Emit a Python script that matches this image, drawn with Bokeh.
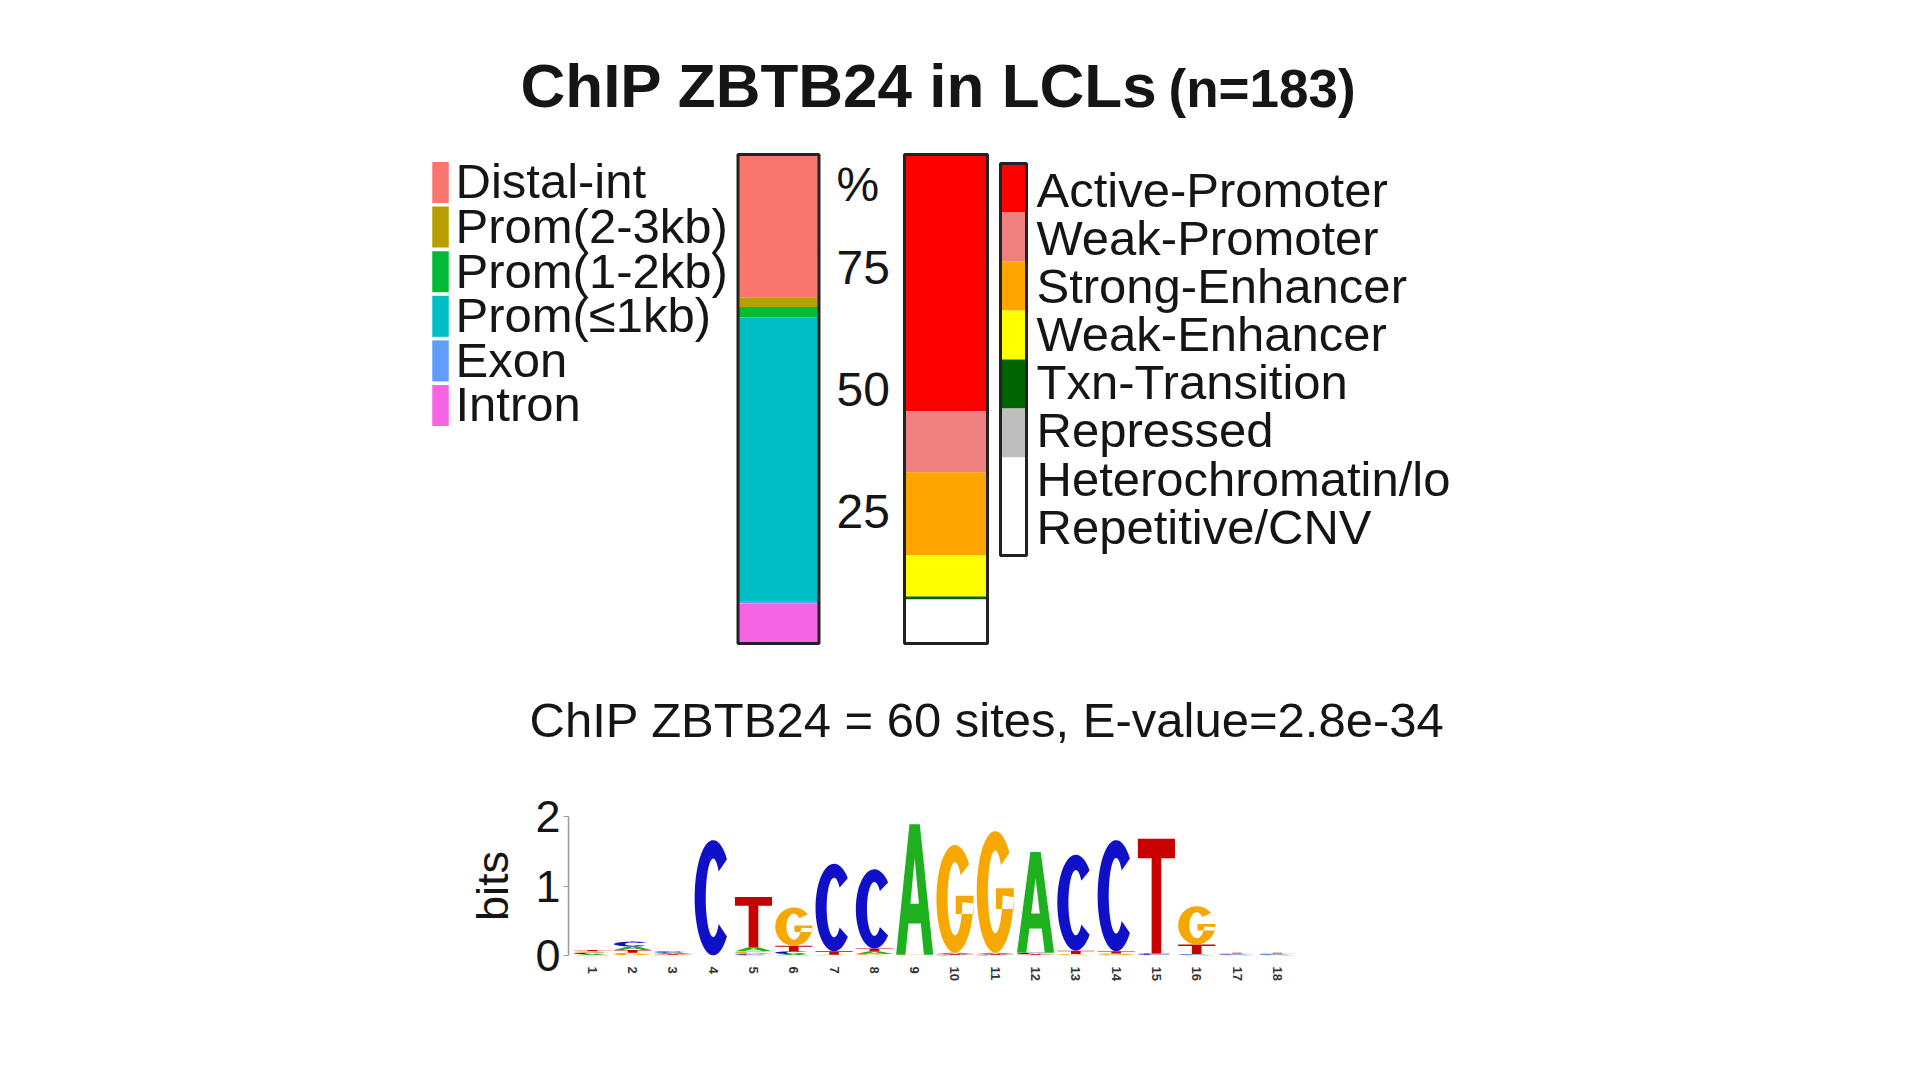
import numpy as np
from bokeh.plotting import figure
from bokeh.models import Range1d, FixedTicker
from bokeh.embed import file_html
from bokeh.resources import INLINE
from bokeh.core.properties import value

# ---------------- data ----------------
title_main = "ChIP ZBTB24 in LCLs"
title_n = "(n=183)"
motif_title = "ChIP ZBTB24 = 60 sites, E-value=2.8e-34"

region_labels = ["Distal-int", "Prom(2-3kb)", "Prom(1-2kb)", "Prom(\u22641kb)", "Exon", "Intron"]
region_pct = [29.2, 2.0, 2.1, 58.0, 0.5, 8.2]
region_colors = ["#F8766D", "#B79F00", "#00BA38", "#00BFC4", "#619CFF", "#F564E3"]

state_labels = ["Active-Promoter", "Weak-Promoter", "Strong-Enhancer", "Weak-Enhancer",
                "Txn-Transition", "Repressed", "Heterochromatin/lo", "Repetitive/CNV"]
state_pct = [52.5, 12.5, 17.0, 8.4, 0.6, 0.0, 9.0, 0.0]
state_colors = ["#FF0000", "#F08080", "#FFA500", "#FFFF00", "#006400", "#BEBEBE", "#FFFFFF", "#FFFFFF"]

pct_ticks = [25, 50, 75]
pct_unit = "%"

motif_pos = list(range(1, 19))
bits_A = [0.02, 0.05, 0.02, 0.00, 0.06, 0.02, 0.00, 0.04, 1.88, 0.02, 0.02, 1.45, 0.00, 0.01, 0.00, 0.01, 0.01, 0.01]
bits_C = [0.02, 0.07, 0.02, 1.66, 0.02, 0.04, 1.26, 1.14, 0.00, 0.01, 0.01, 0.02, 1.38, 1.60, 0.02, 0.01, 0.01, 0.01]
bits_G = [0.02, 0.04, 0.01, 0.00, 0.04, 0.55, 0.01, 0.02, 0.01, 1.55, 1.75, 0.01, 0.02, 0.02, 0.01, 0.55, 0.01, 0.01]
bits_T = [0.02, 0.04, 0.01, 0.00, 0.72, 0.08, 0.05, 0.04, 0.00, 0.01, 0.01, 0.01, 0.05, 0.03, 1.65, 0.14, 0.01, 0.01]
bits_ticks = [0, 1, 2]
letter_colors = {"A": "#1FB01F", "C": "#1010C8", "G": "#F7A800", "T": "#C80000"}

FONT = value("Liberation Sans")
TXT = "#151515"

# ---------------- layout helpers (pixel placement) ----------------
P1_W, P1_H = 1904, 780
PX_PER_PCT = 4.89
ZERO_IMG_Y = 643.0
BASE_FIX = 0.4  # baseline correction (fraction of font size)


def vy(img_y):
    return (ZERO_IMG_Y - img_y) / PX_PER_PCT


def vx(img_x):
    return float(img_x)


def tb(img_baseline, fs):
    return vy(img_baseline - BASE_FIX * fs)


y_top = vy(0.0)
y_bot = y_top - P1_H / PX_PER_PCT

p1 = figure(width=P1_W, height=P1_H, x_range=Range1d(0, P1_W), y_range=Range1d(y_bot, y_top),
            x_axis_type=None, y_axis_type=None, toolbar_location=None, output_backend="svg",
            min_border=0, title=None)
p1.outline_line_color = None
p1.grid.visible = False
p1.background_fill_color = "white"
p1.border_fill_color = "white"

# --- title ---
p1.text(x=[vx(520)], y=[tb(109.5, 62)], text=[title_main], text_font=FONT, text_font_size="62px",
        text_font_style="bold", text_baseline="alphabetic", text_align="left", text_color=TXT)
p1.text(x=[vx(1168)], y=[tb(109.5, 53)], text=[title_n], text_font=FONT, text_font_size="53px",
        text_font_style="bold", text_baseline="alphabetic", text_align="left", text_color=TXT)

# --- stacked bars ---
BAR_W = 81


def stacked(vals):
    tops, bots = [], []
    cur = 100.0
    for v in vals:
        tops.append(cur)
        bots.append(cur - v)
        cur -= v
    return tops, bots


left_x = vx(778)
right_x = vx(945.5)

t, b = stacked(region_pct)
p1.vbar(x=[left_x] * len(region_pct), width=BAR_W, top=t, bottom=b,
        fill_color=region_colors, line_color=None)
p1.vbar(x=[left_x], width=BAR_W, top=[100], bottom=[0], fill_color=None,
        line_color="#222222", line_width=3)

t, b = stacked(state_pct)
p1.vbar(x=[right_x] * len(state_pct), width=BAR_W + 2, top=t, bottom=b,
        fill_color=state_colors, line_color=None)
p1.vbar(x=[right_x], width=BAR_W + 2, top=[100], bottom=[0], fill_color=None,
        line_color="#222222", line_width=3)

# --- percentage labels between bars ---
p1.text(x=[vx(836)] * len(pct_ticks), y=pct_ticks, text=[str(v) for v in pct_ticks],
        text_font=FONT, text_font_size="48px", text_baseline="alphabetic", text_align="left",
        text_color=TXT, y_offset=9.5 - BASE_FIX * 48)
p1.text(x=[vx(836)], y=[tb(203, 48)], text=[pct_unit], text_font=FONT, text_font_size="48px",
        text_baseline="alphabetic", text_align="left", text_color=TXT)

# --- left legend ---
L_STEP = 44.6
n_reg = len(region_labels)
p1.rect(x=[vx(440)] * n_reg, y=[vy(182 + L_STEP * i) for i in range(n_reg)],
        width=16.5, height=41 / PX_PER_PCT, fill_color=region_colors, line_color=None)
p1.text(x=[vx(455)] * n_reg, y=[tb(200.5 + L_STEP * i, 49) for i in range(n_reg)], text=region_labels,
        text_font=FONT, text_font_size="49px", text_baseline="alphabetic", text_align="left",
        text_color=TXT)

# --- right legend ---
n_st = len(state_labels)
BOX_TOP, BOX_BOT = 163.0, 555.0
slot = (BOX_BOT - BOX_TOP) / n_st
p1.rect(x=[vx(1013)] * n_st, y=[vy(BOX_TOP + slot * (i + 0.5)) for i in range(n_st)],
        width=25, height=slot / PX_PER_PCT, fill_color=state_colors, line_color=None)
p1.rect(x=[vx(1013)], y=[vy((BOX_TOP + BOX_BOT) / 2)], width=26,
        height=(BOX_BOT - BOX_TOP) / PX_PER_PCT, fill_color=None, line_color="#222222", line_width=3)
p1.text(x=[vx(1036)] * n_st, y=[tb(209 + 48.1 * i, 49) for i in range(n_st)], text=state_labels,
        text_font=FONT, text_font_size="49px", text_baseline="alphabetic", text_align="left",
        text_color=TXT)

# --- motif subtitle ---
p1.text(x=[vx(529)], y=[tb(739, 49)], text=[motif_title], text_font=FONT, text_font_size="49px",
        text_baseline="alphabetic", text_align="left", text_color=TXT)

# ---------------- sequence logo ----------------
p2 = figure(width=1321, height=268, x_range=Range1d(0.41, 18.6), y_range=Range1d(0, 2),
            toolbar_location=None, output_backend="svg", title=None,
            min_border_left=568, min_border_right=20, min_border_top=36, min_border_bottom=93)
p2.outline_line_color = None
p2.grid.visible = False


def arc_ring(a0, a1, rxo, ryo, rxi, ryi, n=48):
    th = np.radians(np.linspace(a0, a1, n))
    ox = 0.5 + rxo * np.cos(th)
    oy = 0.5 + ryo * np.sin(th)
    ix = 0.5 + rxi * np.cos(th[::-1])
    iy = 0.5 + ryi * np.sin(th[::-1])
    return list(np.concatenate([ox, ix])), list(np.concatenate([oy, iy]))


# unit glyph outlines: list of polygons, each polygon = list of rings (outer, holes...)
SHAPES = {
    "A": [[([0.0, 0.36, 0.64, 1.0, 0.75, 0.665, 0.335, 0.25], [0, 1, 1, 0, 0, 0.24, 0.24, 0]),
           ([0.385, 0.615, 0.5], [0.39, 0.39, 0.74])]],
    "T": [[([0.0, 1.0, 1.0, 0.63, 0.63, 0.37, 0.37, 0.0], [1, 1, 0.83, 0.83, 0, 0, 0.83, 0.83])]],
    "C": [[arc_ring(42, 318, 0.5, 0.5, 0.2, 0.34)]],
    "G": [[arc_ring(40, 355, 0.5, 0.5, 0.2, 0.34)],
          [([0.52, 1.0, 1.0, 0.52], [0.36, 0.36, 0.53, 0.53])]],
}

bits = {"A": bits_A, "C": bits_C, "G": bits_G, "T": bits_T}
LW = 0.92
xs, ys, cols = [], [], []
for i, pos in enumerate(motif_pos):
    col = sorted(((bits[l][i], l) for l in "ACGT"), key=lambda z: z[0])
    base = 0.0
    for h, l in col:
        if h <= 0.004:
            continue
        mx, my = [], []
        for poly in SHAPES[l]:
            px_, py_ = [], []
            for rx, ry in poly:
                px_.append([pos - LW / 2 + LW * u for u in rx])
                py_.append([base + h * u for u in ry])
            mx.append(px_)
            my.append(py_)
        xs.append(mx)
        ys.append(my)
        cols.append(letter_colors[l])
        base += h

p2.multi_polygons(xs=xs, ys=ys, fill_color=cols, line_color=None)

p2.yaxis.ticker = FixedTicker(ticks=bits_ticks)
p2.yaxis.minor_tick_line_color = None
p2.yaxis.axis_line_color = "#9a9a9a"
p2.yaxis.axis_line_width = 1.5
p2.yaxis.major_tick_line_color = "#9a9a9a"
p2.yaxis.major_tick_out = 5
p2.yaxis.major_tick_in = 0
p2.yaxis.major_label_standoff = 3
p2.yaxis.major_label_text_font = "Liberation Sans"
p2.yaxis.major_label_text_font_size = "45px"
p2.yaxis.major_label_text_color = TXT
p2.yaxis.axis_label = "bits"
p2.yaxis.axis_label_text_font = "Liberation Sans"
p2.yaxis.axis_label_text_font_size = "45px"
p2.yaxis.axis_label_text_font_style = "normal"
p2.yaxis.axis_label_text_color = TXT
p2.yaxis.axis_label_standoff = 14

p2.xaxis.ticker = FixedTicker(ticks=motif_pos)
p2.xaxis.axis_line_color = None
p2.xaxis.major_tick_line_color = None
p2.xaxis.minor_tick_line_color = None
p2.xaxis.major_label_orientation = "vertical"
p2.xaxis.major_label_standoff = 5
p2.xaxis.major_label_text_font = "Liberation Sans"
p2.xaxis.major_label_text_font_size = "13px"
p2.xaxis.major_label_text_font_style = "bold"
p2.xaxis.major_label_text_color = "#333333"

# two independent roots, stacked on the page (no border alignment between them)
open("out.html", "w").write(file_html((p1, p2), INLINE))
